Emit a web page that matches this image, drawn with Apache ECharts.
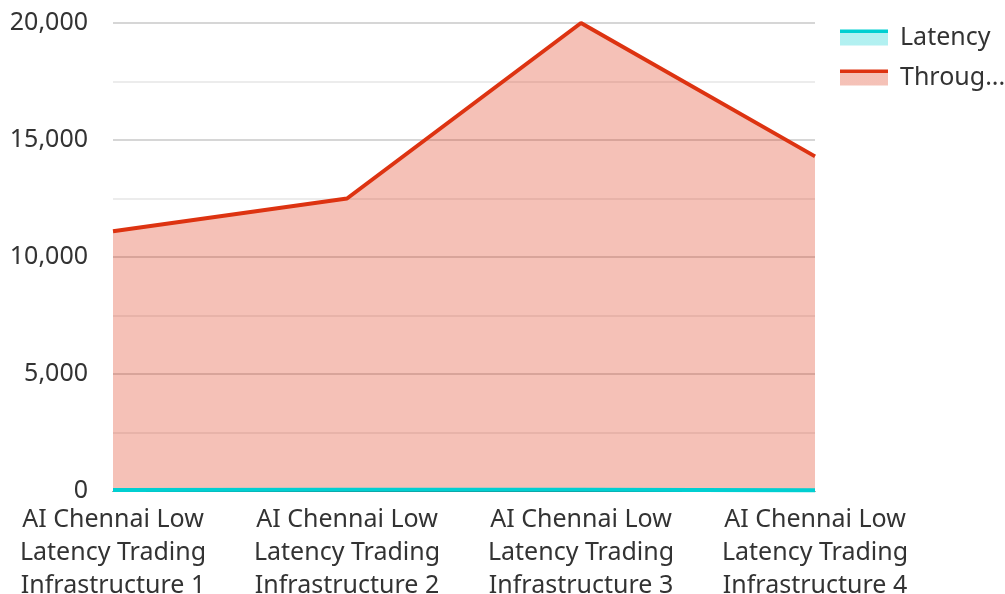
<!DOCTYPE html>
<html>
<head>
<meta charset="utf-8">
<script src="https://cdn.jsdelivr.net/npm/echarts@6/dist/echarts.min.js"></script>
<style>
  html, body { margin: 0; padding: 0; background: #fff; }
  #chart { width: 1005px; height: 594px; }
</style>
</head>
<body>
<div id="chart"></div>
<script>
// 数据
const categories = [
  'AI Chennai Low Latency Trading Infrastructure 1',
  'AI Chennai Low Latency Trading Infrastructure 2',
  'AI Chennai Low Latency Trading Infrastructure 3',
  'AI Chennai Low Latency Trading Infrastructure 4'
]
const latency = [40, 55, 55, 30]
const throughput = [11100, 12500, 20000, 14300]

const chart = echarts.init(document.getElementById('chart'))

const wrapLabel = (s) => s.replace('Low ', 'Low\n').replace('Trading ', 'Trading\n')

// 图例图标：上方实线 + 下方浅色填充
const legendIcon = (c, light) => ({
  color: new echarts.graphic.LinearGradient(0, 0, 0, 1, [
    { offset: 0, color: c },
    { offset: 0.22, color: c },
    { offset: 0.22, color: light },
    { offset: 1, color: light }
  ])
})

const option = {
  textStyle: { fontFamily: 'Noto Sans' },
  grid: {
    left: 113,
    right: 190,
    top: 23,
    bottom: 103,
    outerBoundsMode: 'none'
  },
  legend: {
    orient: 'vertical',
    left: 835,
    top: 20,
    itemWidth: 48,
    itemHeight: 16,
    itemGap: 15,
    icon: 'rect',
    textStyle: {
      fontSize: 25,
      color: '#333',
      width: 110,
      overflow: 'truncate',
      padding: [0, 0, 0, 7]
    },
    data: [
      { name: 'Latency', itemStyle: legendIcon('#00cfd1', 'rgba(0,207,209,0.3)') },
      { name: 'Throughput', itemStyle: legendIcon('#dd3311', 'rgba(221,51,17,0.3)') }
    ]
  },
  xAxis: {
    type: 'category',
    boundaryGap: false,
    data: categories,
    axisLine: { lineStyle: { color: '#333', width: 1 } },
    axisTick: { show: false },
    axisLabel: {
      fontSize: 25,
      color: '#333',
      lineHeight: 33,
      margin: 12,
      interval: 0,
      formatter: wrapLabel
    }
  },
  yAxis: {
    type: 'value',
    min: 0,
    max: 20000,
    interval: 5000,
    axisLine: { show: false },
    axisTick: { show: false },
    axisLabel: {
      fontSize: 25,
      color: '#333',
      margin: 25,
      formatter: (v) => v.toLocaleString('en-US')
    },
    splitLine: { lineStyle: { color: '#c8c8c8', width: 1.5 } },
    minorTick: { show: false, splitNumber: 2 },
    minorSplitLine: { show: true, lineStyle: { color: '#e6e6e6', width: 1.5 } }
  },
  series: [
    {
      name: 'Latency',
      type: 'line',
      data: latency,
      symbol: 'none',
      z: 3,
      lineStyle: { color: '#00cfd1', width: 4 },
      itemStyle: { color: '#00cfd1' },
      areaStyle: { color: '#00cfd1', opacity: 0.3 }
    },
    {
      name: 'Throughput',
      type: 'line',
      data: throughput,
      symbol: 'none',
      z: 2,
      lineStyle: { color: '#dd3311', width: 4 },
      itemStyle: { color: '#dd3311' },
      areaStyle: { color: '#dd3311', opacity: 0.3 }
    }
  ]
}

chart.setOption(option)
window.addEventListener('resize', () => chart.resize())
</script>
</body>
</html>
